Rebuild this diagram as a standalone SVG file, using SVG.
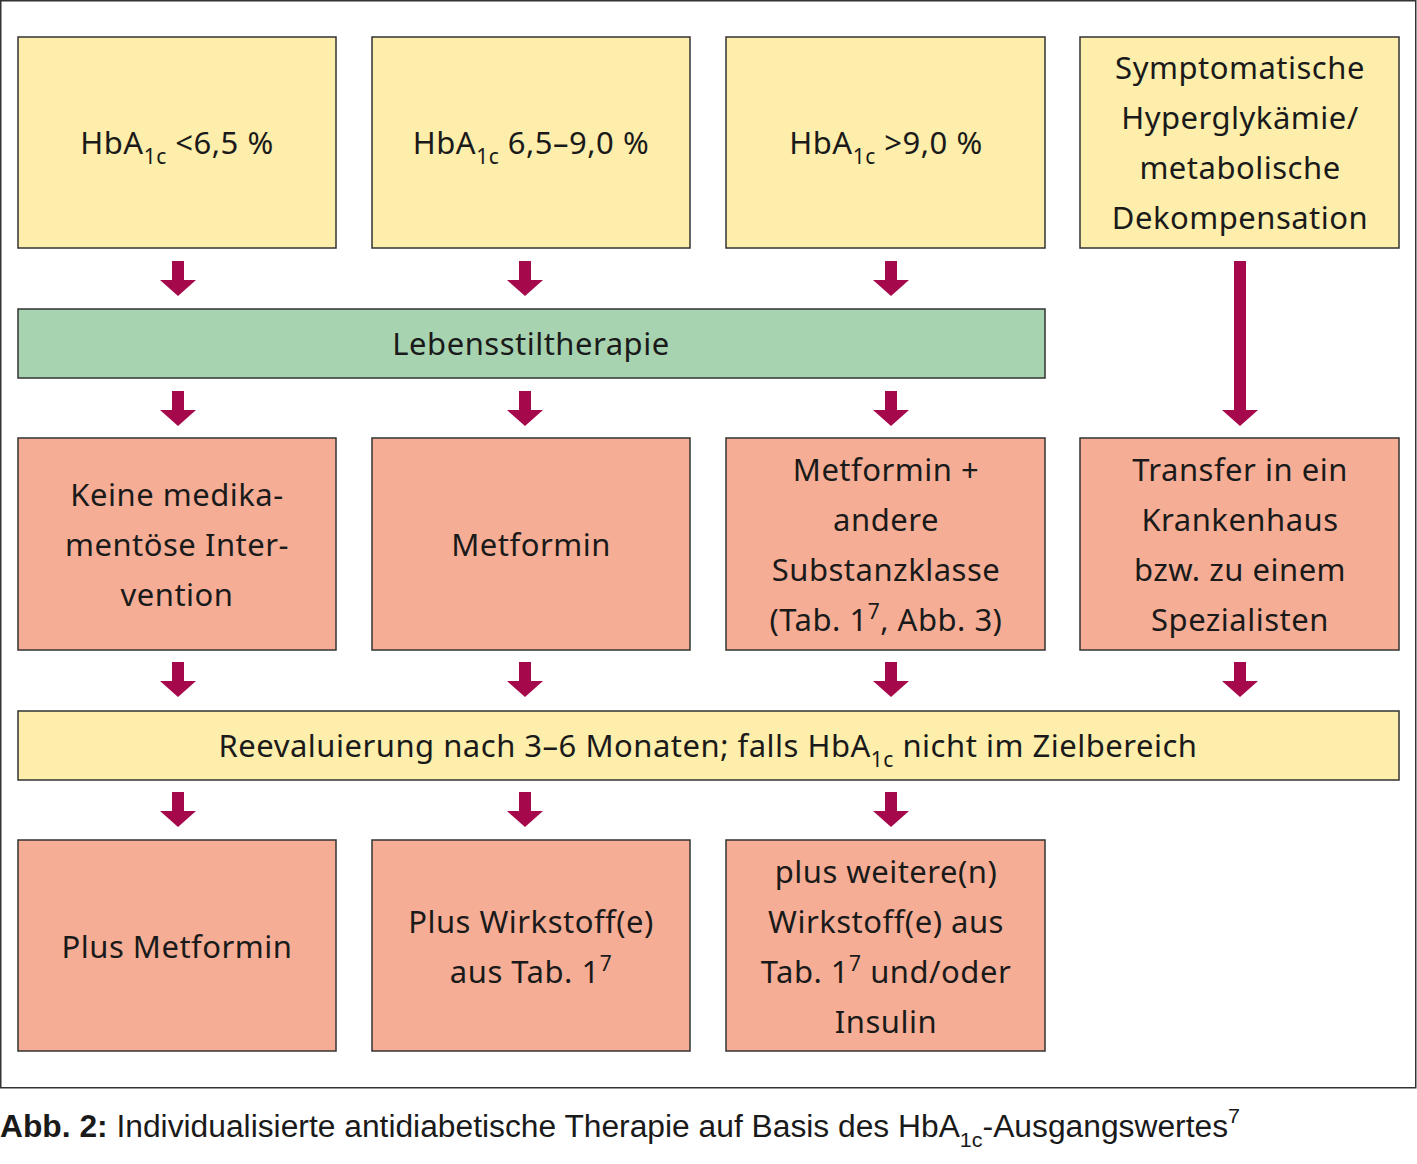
<svg xmlns="http://www.w3.org/2000/svg" width="1417" height="1164" viewBox="0 0 1417 1164">
<defs>
<style>
.y{fill:#fdeeab;stroke:#333;stroke-width:1.5}
.g{fill:#a7d3b0;stroke:#333;stroke-width:1.5}
.o{fill:#f5ae95;stroke:#333;stroke-width:1.5}
text{font-family:"Noto Sans","Liberation Sans",sans-serif;font-size:31px;fill:#1a1a1a;text-anchor:middle;letter-spacing:0.5px}
.s{font-size:21px}
.a{fill:#a5084b}
.cap{font-family:"Liberation Sans",sans-serif;font-size:31px;text-anchor:start;letter-spacing:0}
</style>
<path id="ar" class="a" d="M-6,0 H6 V19 H18 L0,35 L-18,19 H-6 Z"/>
</defs>
<rect x="0.75" y="0.75" width="1415" height="1087" fill="#fff" stroke="#333" stroke-width="1.5"/>
<g id="n1"><rect class="y" x="18" y="37" width="318" height="211"/><text x="177" y="154">HbA<tspan class="s" dy="10">1c</tspan><tspan dy="-10"> &lt;6,5 %</tspan></text></g>
<g id="n2"><rect class="y" x="372" y="37" width="318" height="211"/><text x="531" y="154">HbA<tspan class="s" dy="10">1c</tspan><tspan dy="-10"> 6,5–9,0 %</tspan></text></g>
<g id="n3"><rect class="y" x="726" y="37" width="319" height="211"/><text x="886" y="154">HbA<tspan class="s" dy="10">1c</tspan><tspan dy="-10"> &gt;9,0 %</tspan></text></g>
<g id="n4"><rect class="y" x="1080" y="37" width="319" height="211"/><text x="1240" y="79">Symptomatische</text><text x="1240" y="129">Hyperglykämie/</text><text x="1240" y="179">metabolische</text><text x="1240" y="229">Dekompensation</text></g>
<g id="n5"><rect class="g" x="18" y="309" width="1027" height="69"/><text x="531" y="355">Lebensstiltherapie</text></g>
<g id="n6"><rect class="o" x="18" y="438" width="318" height="212"/><text x="177" y="506">Keine medika-</text><text x="177" y="556">mentöse Inter-</text><text x="177" y="606">vention</text></g>
<g id="n7"><rect class="o" x="372" y="438" width="318" height="212"/><text x="531" y="556">Metformin</text></g>
<g id="n8"><rect class="o" x="726" y="438" width="319" height="212"/><text x="886" y="481">Metformin +</text><text x="886" y="531">andere</text><text x="886" y="581">Substanzklasse</text><text x="886" y="631">(Tab. 1<tspan class="s" dy="-12">7</tspan><tspan dy="12">, Abb. 3)</tspan></text></g>
<g id="n9"><rect class="o" x="1080" y="438" width="319" height="212"/><text x="1240" y="481">Transfer in ein</text><text x="1240" y="531">Krankenhaus</text><text x="1240" y="581">bzw. zu einem</text><text x="1240" y="631">Spezialisten</text></g>
<g id="n10"><rect class="y" x="18" y="711" width="1381" height="69"/><text x="708" y="757">Reevaluierung nach 3–6 Monaten; falls HbA<tspan class="s" dy="10">1c</tspan><tspan dy="-10"> nicht im Zielbereich</tspan></text></g>
<g id="n11"><rect class="o" x="18" y="840" width="318" height="211"/><text x="177" y="958">Plus Metformin</text></g>
<g id="n12"><rect class="o" x="372" y="840" width="318" height="211"/><text x="531" y="933">Plus Wirkstoff(e)</text><text x="531" y="983">aus Tab. 1<tspan class="s" dy="-12">7</tspan></text></g>
<g id="n13"><rect class="o" x="726" y="840" width="319" height="211"/><text x="886" y="883">plus weitere(n)</text><text x="886" y="933">Wirkstoff(e) aus</text><text x="886" y="983">Tab. 1<tspan class="s" dy="-12">7</tspan><tspan dy="12"> und/oder</tspan></text><text x="886" y="1033">Insulin</text></g>
<g id="connectors">
<use href="#ar" x="178" y="261"/><use href="#ar" x="525" y="261"/><use href="#ar" x="891" y="261"/>
<use href="#ar" x="178" y="391"/><use href="#ar" x="525" y="391"/><use href="#ar" x="891" y="391"/>
<path class="a" d="M1234,261 H1246 V410 H1258 L1240,426 L1222,410 H1234 Z"/>
<use href="#ar" x="178" y="662"/><use href="#ar" x="525" y="662"/><use href="#ar" x="891" y="662"/><use href="#ar" x="1240" y="662"/>
<use href="#ar" x="178" y="792"/><use href="#ar" x="525" y="792"/><use href="#ar" x="891" y="792"/>
</g>
<text class="cap" x="0" y="1137" textLength="1240" lengthAdjust="spacingAndGlyphs"><tspan font-weight="bold">Abb. 2:</tspan> Individualisierte antidiabetische Therapie auf Basis des HbA<tspan font-size="21" dy="10">1c</tspan><tspan dy="-10">-Ausgangswertes</tspan><tspan font-size="21" dy="-14">7</tspan></text>
</svg>
